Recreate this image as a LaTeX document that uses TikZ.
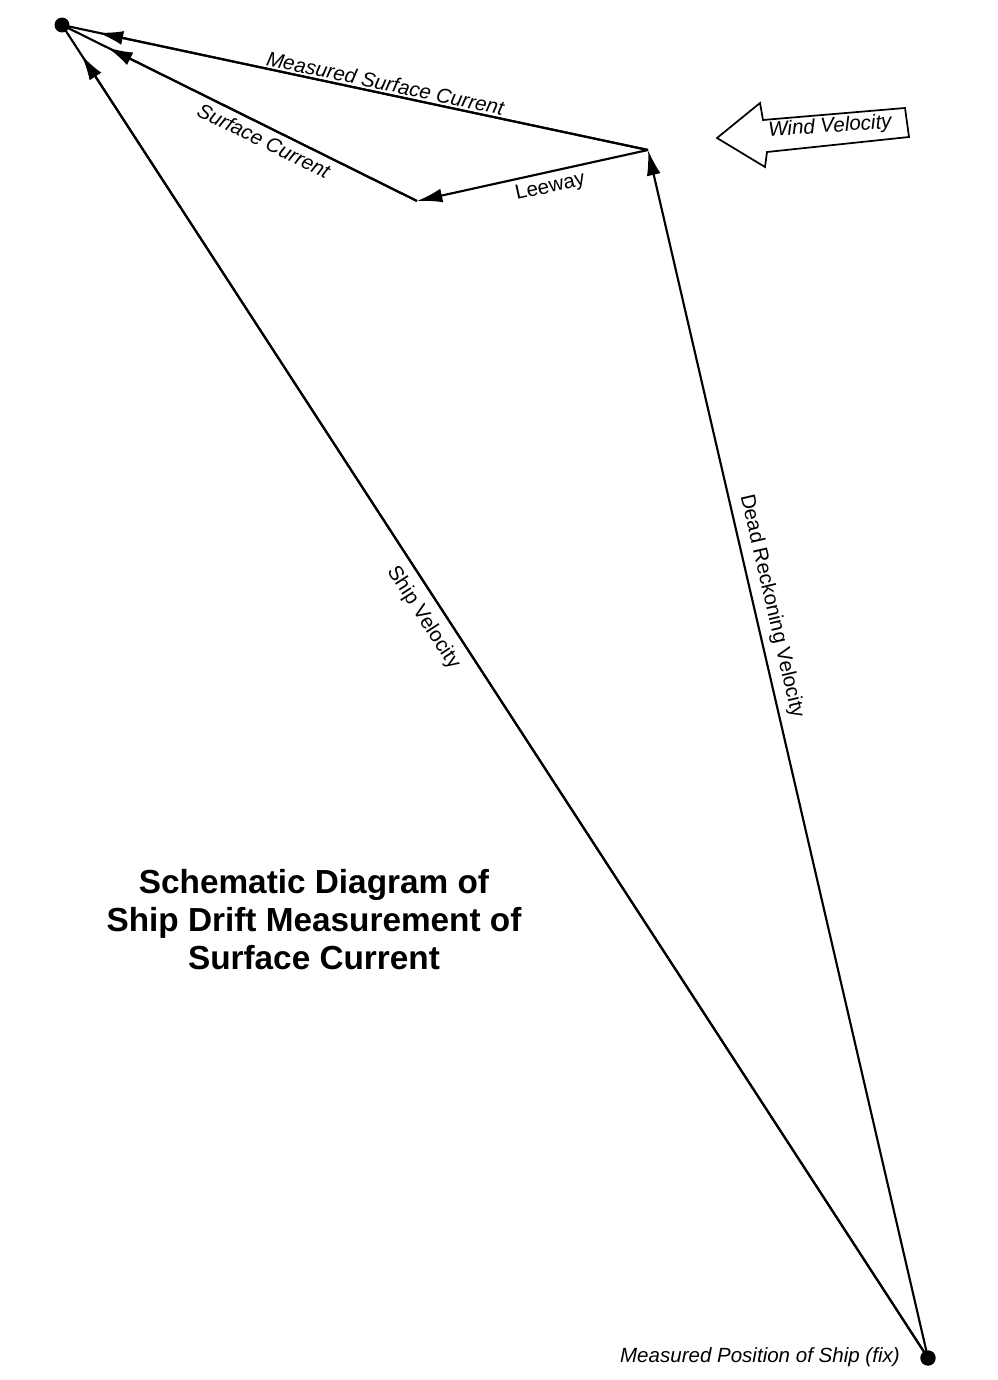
\documentclass[tikz,border=0pt]{standalone}
\usepackage{fontspec}
\setmainfont{Liberation Sans}
\usetikzlibrary{arrows.meta}
\begin{document}
\begin{tikzpicture}[x=0.75pt,y=-0.75pt,
  vec/.style={line width=1.6pt},
  tip/.style={line width=1.6pt,-{Latex[length=19pt,width=10.5pt]}},
  lbl/.style={font=\fontsize{15.4}{18}\selectfont, inner sep=1.5pt},
  ilbl/.style={font=\fontsize{15.4}{18}\selectfont\itshape, inner sep=1.5pt},
  dotfill/.style={fill=black}]
\useasboundingbox (0,0) rectangle (997,1380);
\coordinate (A) at (62,25);
\coordinate (B) at (648,150);
\coordinate (C) at (417,201);
\coordinate (D) at (928,1358);
% vectors
\draw[vec] (B) -- (A) node[pos=0.452, sloped, above, ilbl] {Measured Surface Current};
\draw[tip, shorten >=27.5pt] (B) -- (A);
\draw[vec] (C) -- (A) node[pos=0.414, sloped, below, ilbl, inner sep=4pt] {Surface Current};
\draw[tip, shorten >=38pt] (C) -- (A);
\draw[tip] (B) -- (C) node[pos=0.437, sloped, below, lbl, inner sep=4pt] {Leeway};
\draw[vec] (D) -- (A) node[pos=0.5634, sloped, below, lbl, inner sep=7pt] {Ship Velocity};
\draw[tip, shorten >=27pt] (D) -- (A);
\draw[tip] (D) -- (B) node[pos=0.619, sloped, above, lbl, inner sep=5pt] {Dead Reckoning Velocity};
% dots
\fill[dotfill] (A) circle[radius=5.6pt];
\fill[dotfill] (D) circle[radius=5.8pt];
% wind arrow
\coordinate (w1) at (717,138);
\coordinate (w2) at (760,103);
\coordinate (w3) at (763,120);
\coordinate (w4) at (905,108);
\coordinate (w5) at (909,137);
\coordinate (w6) at (767,152);
\coordinate (w7) at (765,167);
\draw[line width=1.3pt, line join=miter] (w1) -- (w2) -- (w3) -- (w4) -- (w5) -- (w6) -- (w7) -- cycle;
\node[ilbl, rotate=4] (wind) at (830,127) {Wind Velocity};
% texts
\node[ilbl, anchor=east] (fix) at (902,1357) {Measured Position of Ship (fix)};
\node[font=\fontsize{25}{28.5}\selectfont\bfseries, align=center] (title) at (314,920) {Schematic Diagram of\\Ship Drift Measurement of\\Surface Current};
\end{tikzpicture}
\end{document}
